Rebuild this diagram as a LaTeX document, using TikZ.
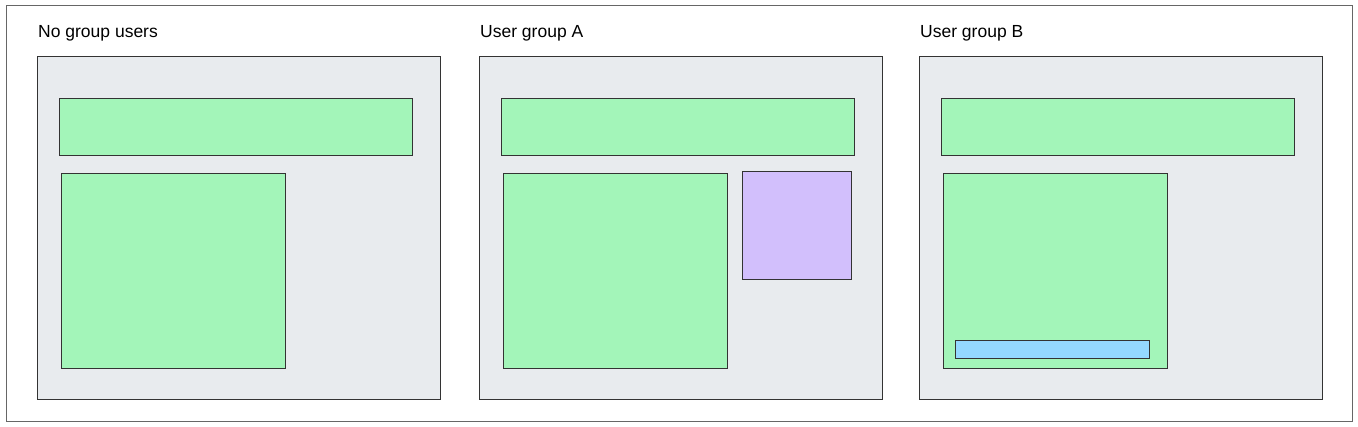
\documentclass[tikz,border=0pt]{standalone}
\usepackage{fontspec}
\setmainfont{Liberation Sans}
\definecolor{panelgray}{HTML}{E8EBEE}
\definecolor{boxgreen}{HTML}{A3F5B9}
\definecolor{boxpurple}{HTML}{D2BFFC}
\definecolor{boxblue}{HTML}{94D8FF}
\tikzset{
  panel/.style={draw=black!80, fill=panelgray, line width=0.7pt},
  block/.style={draw=black!80, line width=0.7pt},
  grouplabel/.style={anchor=base west, inner sep=0pt, font=\fontsize{17.5}{20}\selectfont}
}
\begin{document}
\begin{tikzpicture}[x=1pt,y=-1pt]
\useasboundingbox (0,0) rectangle (1358,427);
\draw[black!60, line width=0.8pt] (6,5) rectangle (1352,421);
\foreach \x/\name/\txt in {37/none/No group users,479/a/User group A,919/b/User group B} {
  \node[grouplabel] (label\name) at (\x+1,38) {\txt};
  \draw[panel] (\x,56) rectangle (\x+403,399);
  \draw[block, fill=boxgreen] (\x+22,98) rectangle (\x+375,155);
  \draw[block, fill=boxgreen] (\x+24,173) rectangle (\x+248,368);
}
\draw[block, fill=boxpurple] (742,171) rectangle (851,279);
\draw[block, fill=boxblue] (955,340) rectangle (1149,358);
\end{tikzpicture}
\end{document}
